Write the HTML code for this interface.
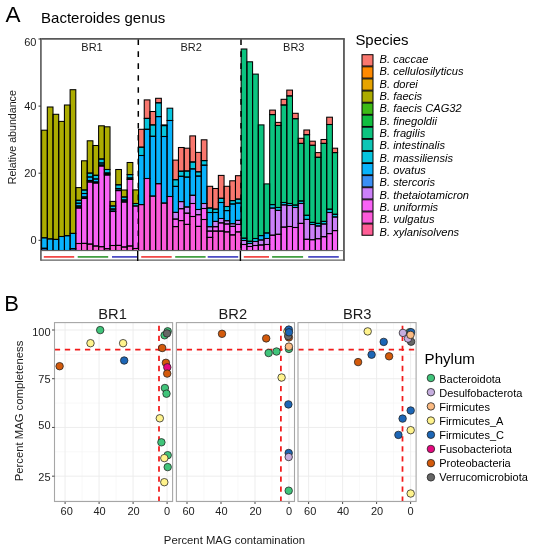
<!DOCTYPE html>
<html><head><meta charset="utf-8"><style>
html,body{margin:0;padding:0;background:#fff;}
body{width:533px;height:550px;overflow:hidden;}
svg{display:block;font-family:"Liberation Sans", sans-serif;will-change:transform;}
</style></head><body>
<svg width="533" height="550" viewBox="0 0 533 550">
<rect width="533" height="550" fill="#fff"/>
<line x1="40.9" y1="38.8" x2="344.8" y2="38.8" stroke="#585858" stroke-width="1.8"/>
<line x1="343.95" y1="38.8" x2="343.95" y2="260.8" stroke="#585858" stroke-width="1.8"/>
<line x1="40.9" y1="260.15" x2="344.8" y2="260.15" stroke="#606060" stroke-width="1.4"/>
<line x1="40.9" y1="37.9" x2="40.9" y2="260.85" stroke="#6a6a6a" stroke-width="1.8"/>
<rect x="41.60" y="130.20" width="5.70" height="107.60" fill="#ACAC00"/>
<rect x="41.60" y="237.80" width="5.70" height="10.50" fill="#08B3FC"/>
<rect x="41.60" y="248.30" width="5.70" height="2.20" fill="#1E5FA8"/>
<rect x="47.30" y="107.00" width="5.70" height="131.90" fill="#ACAC00"/>
<rect x="47.30" y="238.90" width="5.70" height="11.60" fill="#08B3FC"/>
<rect x="53.00" y="114.30" width="5.70" height="125.10" fill="#ACAC00"/>
<rect x="53.00" y="239.40" width="5.70" height="11.10" fill="#08B3FC"/>
<rect x="58.71" y="121.40" width="5.70" height="115.10" fill="#ACAC00"/>
<rect x="58.71" y="236.50" width="5.70" height="14.00" fill="#08B3FC"/>
<rect x="64.41" y="105.00" width="5.70" height="130.70" fill="#ACAC00"/>
<rect x="64.41" y="235.70" width="5.70" height="14.80" fill="#08B3FC"/>
<rect x="70.11" y="89.70" width="5.70" height="143.70" fill="#ACAC00"/>
<rect x="70.11" y="233.40" width="5.70" height="15.20" fill="#08B3FC"/>
<rect x="70.11" y="248.60" width="5.70" height="1.90" fill="#1E5FA8"/>
<rect x="75.81" y="187.60" width="5.70" height="12.70" fill="#ACAC00"/>
<rect x="75.81" y="200.30" width="5.70" height="2.90" fill="#06C5DE"/>
<rect x="75.81" y="203.20" width="5.70" height="2.80" fill="#08B3FC"/>
<rect x="75.81" y="206.00" width="5.70" height="2.00" fill="#0D4658"/>
<rect x="75.81" y="208.00" width="5.70" height="35.50" fill="#F962F6"/>
<rect x="75.81" y="243.50" width="5.70" height="7.00" fill="#FB5ADA"/>
<rect x="81.51" y="160.80" width="5.70" height="29.20" fill="#ACAC00"/>
<rect x="81.51" y="190.00" width="5.70" height="3.50" fill="#06C5DE"/>
<rect x="81.51" y="193.50" width="5.70" height="3.50" fill="#08B3FC"/>
<rect x="81.51" y="197.00" width="5.70" height="1.50" fill="#0D4658"/>
<rect x="81.51" y="198.50" width="5.70" height="44.90" fill="#F962F6"/>
<rect x="81.51" y="243.40" width="5.70" height="7.10" fill="#FB5ADA"/>
<rect x="87.22" y="140.80" width="5.70" height="32.30" fill="#ACAC00"/>
<rect x="87.22" y="173.10" width="5.70" height="3.90" fill="#06C5DE"/>
<rect x="87.22" y="177.00" width="5.70" height="3.50" fill="#08B3FC"/>
<rect x="87.22" y="180.50" width="5.70" height="1.50" fill="#0D4658"/>
<rect x="87.22" y="182.00" width="5.70" height="62.10" fill="#F962F6"/>
<rect x="87.22" y="244.10" width="5.70" height="6.40" fill="#FB5ADA"/>
<rect x="92.92" y="145.50" width="5.70" height="29.80" fill="#ACAC00"/>
<rect x="92.92" y="175.30" width="5.70" height="3.70" fill="#06C5DE"/>
<rect x="92.92" y="179.00" width="5.70" height="3.00" fill="#08B3FC"/>
<rect x="92.92" y="182.00" width="5.70" height="1.00" fill="#0D4658"/>
<rect x="92.92" y="183.00" width="5.70" height="63.00" fill="#F962F6"/>
<rect x="92.92" y="246.00" width="5.70" height="4.50" fill="#FB5ADA"/>
<rect x="98.62" y="125.80" width="5.70" height="33.20" fill="#ACAC00"/>
<rect x="98.62" y="159.00" width="5.70" height="4.00" fill="#06C5DE"/>
<rect x="98.62" y="163.00" width="5.70" height="2.00" fill="#08B3FC"/>
<rect x="98.62" y="165.00" width="5.70" height="1.00" fill="#0D4658"/>
<rect x="98.62" y="166.00" width="5.70" height="80.70" fill="#F962F6"/>
<rect x="98.62" y="246.70" width="5.70" height="3.80" fill="#FB5ADA"/>
<rect x="104.32" y="126.80" width="5.70" height="42.70" fill="#ACAC00"/>
<rect x="104.32" y="169.50" width="5.70" height="3.50" fill="#06C5DE"/>
<rect x="104.32" y="173.00" width="5.70" height="1.00" fill="#08B3FC"/>
<rect x="104.32" y="174.00" width="5.70" height="1.00" fill="#0D4658"/>
<rect x="104.32" y="175.00" width="5.70" height="73.70" fill="#F962F6"/>
<rect x="104.32" y="248.70" width="5.70" height="1.80" fill="#FB5ADA"/>
<rect x="110.02" y="201.40" width="5.70" height="4.60" fill="#ACAC00"/>
<rect x="110.02" y="206.00" width="5.70" height="3.00" fill="#06C5DE"/>
<rect x="110.02" y="209.00" width="5.70" height="2.50" fill="#0D4658"/>
<rect x="110.02" y="211.50" width="5.70" height="34.00" fill="#F962F6"/>
<rect x="110.02" y="245.50" width="5.70" height="5.00" fill="#FB5ADA"/>
<rect x="115.73" y="169.50" width="5.70" height="15.30" fill="#ACAC00"/>
<rect x="115.73" y="184.80" width="5.70" height="3.70" fill="#06C5DE"/>
<rect x="115.73" y="188.50" width="5.70" height="2.10" fill="#0D4658"/>
<rect x="115.73" y="190.60" width="5.70" height="54.80" fill="#F962F6"/>
<rect x="115.73" y="245.40" width="5.70" height="5.10" fill="#FB5ADA"/>
<rect x="121.43" y="190.00" width="5.70" height="7.00" fill="#ACAC00"/>
<rect x="121.43" y="197.00" width="5.70" height="3.00" fill="#06C5DE"/>
<rect x="121.43" y="200.00" width="5.70" height="2.00" fill="#0D4658"/>
<rect x="121.43" y="202.00" width="5.70" height="45.00" fill="#F962F6"/>
<rect x="121.43" y="247.00" width="5.70" height="3.50" fill="#FB5ADA"/>
<rect x="127.13" y="162.50" width="5.70" height="12.10" fill="#ACAC00"/>
<rect x="127.13" y="174.60" width="5.70" height="3.40" fill="#06C5DE"/>
<rect x="127.13" y="178.00" width="5.70" height="1.40" fill="#0D4658"/>
<rect x="127.13" y="179.40" width="5.70" height="66.60" fill="#F962F6"/>
<rect x="127.13" y="246.00" width="5.70" height="4.50" fill="#FB5ADA"/>
<rect x="132.83" y="189.90" width="5.70" height="13.60" fill="#ACAC00"/>
<rect x="132.83" y="203.50" width="5.70" height="2.50" fill="#0EC6B6"/>
<rect x="132.83" y="206.00" width="5.70" height="42.50" fill="#F962F6"/>
<rect x="132.83" y="248.50" width="5.70" height="2.00" fill="#FB5ADA"/>
<rect x="138.53" y="129.30" width="5.70" height="17.90" fill="#F9776E"/>
<rect x="138.53" y="147.20" width="5.70" height="8.30" fill="#06C5DE"/>
<rect x="138.53" y="155.50" width="5.70" height="49.10" fill="#08B3FC"/>
<rect x="138.53" y="204.60" width="5.70" height="45.90" fill="#FB5ADA"/>
<rect x="144.24" y="99.90" width="5.70" height="18.50" fill="#F9776E"/>
<rect x="144.24" y="118.40" width="5.70" height="10.90" fill="#06C5DE"/>
<rect x="144.24" y="129.30" width="5.70" height="49.20" fill="#08B3FC"/>
<rect x="144.24" y="178.50" width="5.70" height="72.00" fill="#FB5ADA"/>
<rect x="149.94" y="111.50" width="5.70" height="13.40" fill="#F9776E"/>
<rect x="149.94" y="124.90" width="5.70" height="11.40" fill="#06C5DE"/>
<rect x="149.94" y="136.30" width="5.70" height="59.80" fill="#08B3FC"/>
<rect x="149.94" y="196.10" width="5.70" height="54.40" fill="#FB5ADA"/>
<rect x="155.64" y="98.30" width="5.70" height="4.50" fill="#F9776E"/>
<rect x="155.64" y="102.80" width="5.70" height="13.80" fill="#06C5DE"/>
<rect x="155.64" y="116.60" width="5.70" height="67.10" fill="#08B3FC"/>
<rect x="155.64" y="183.70" width="5.70" height="66.80" fill="#FB5ADA"/>
<rect x="161.34" y="124.90" width="5.70" height="0.70" fill="#F9776E"/>
<rect x="161.34" y="125.60" width="5.70" height="10.90" fill="#06C5DE"/>
<rect x="161.34" y="136.50" width="5.70" height="66.60" fill="#08B3FC"/>
<rect x="161.34" y="203.10" width="5.70" height="47.40" fill="#FB5ADA"/>
<rect x="167.04" y="108.20" width="5.70" height="12.30" fill="#06C5DE"/>
<rect x="167.04" y="120.50" width="5.70" height="76.00" fill="#08B3FC"/>
<rect x="167.04" y="196.50" width="5.70" height="54.00" fill="#FB5ADA"/>
<rect x="172.75" y="160.10" width="5.70" height="19.60" fill="#F9776E"/>
<rect x="172.75" y="179.70" width="5.70" height="6.70" fill="#06C5DE"/>
<rect x="172.75" y="186.40" width="5.70" height="26.00" fill="#08B3FC"/>
<rect x="172.75" y="212.40" width="5.70" height="6.70" fill="#CB80F8"/>
<rect x="172.75" y="219.10" width="5.70" height="7.50" fill="#F962F6"/>
<rect x="172.75" y="226.60" width="5.70" height="23.90" fill="#FB5ADA"/>
<rect x="178.45" y="147.50" width="5.70" height="23.70" fill="#F9776E"/>
<rect x="178.45" y="171.20" width="5.70" height="5.10" fill="#06C5DE"/>
<rect x="178.45" y="176.30" width="5.70" height="25.30" fill="#08B3FC"/>
<rect x="178.45" y="201.60" width="5.70" height="7.10" fill="#CB80F8"/>
<rect x="178.45" y="208.70" width="5.70" height="11.90" fill="#F962F6"/>
<rect x="178.45" y="220.60" width="5.70" height="29.90" fill="#FB5ADA"/>
<rect x="184.15" y="148.20" width="5.70" height="22.80" fill="#F9776E"/>
<rect x="184.15" y="171.00" width="5.70" height="6.10" fill="#06C5DE"/>
<rect x="184.15" y="177.10" width="5.70" height="29.90" fill="#08B3FC"/>
<rect x="184.15" y="207.00" width="5.70" height="6.20" fill="#CB80F8"/>
<rect x="184.15" y="213.20" width="5.70" height="11.20" fill="#F962F6"/>
<rect x="184.15" y="224.40" width="5.70" height="26.10" fill="#FB5ADA"/>
<rect x="189.85" y="135.90" width="5.70" height="26.10" fill="#F9776E"/>
<rect x="189.85" y="162.00" width="5.70" height="6.90" fill="#06C5DE"/>
<rect x="189.85" y="168.90" width="5.70" height="26.40" fill="#08B3FC"/>
<rect x="189.85" y="195.30" width="5.70" height="8.20" fill="#CB80F8"/>
<rect x="189.85" y="203.50" width="5.70" height="13.00" fill="#F962F6"/>
<rect x="189.85" y="216.50" width="5.70" height="34.00" fill="#FB5ADA"/>
<rect x="195.55" y="152.40" width="5.70" height="19.40" fill="#F9776E"/>
<rect x="195.55" y="171.80" width="5.70" height="4.30" fill="#06C5DE"/>
<rect x="195.55" y="176.10" width="5.70" height="33.40" fill="#08B3FC"/>
<rect x="195.55" y="209.50" width="5.70" height="5.20" fill="#CB80F8"/>
<rect x="195.55" y="214.70" width="5.70" height="11.70" fill="#F962F6"/>
<rect x="195.55" y="226.40" width="5.70" height="24.10" fill="#FB5ADA"/>
<rect x="201.26" y="139.80" width="5.70" height="20.80" fill="#F9776E"/>
<rect x="201.26" y="160.60" width="5.70" height="4.60" fill="#06C5DE"/>
<rect x="201.26" y="165.20" width="5.70" height="38.30" fill="#08B3FC"/>
<rect x="201.26" y="203.50" width="5.70" height="5.00" fill="#CB80F8"/>
<rect x="201.26" y="208.50" width="5.70" height="11.00" fill="#F962F6"/>
<rect x="201.26" y="219.50" width="5.70" height="31.00" fill="#FB5ADA"/>
<rect x="206.96" y="186.30" width="5.70" height="21.70" fill="#F9776E"/>
<rect x="206.96" y="208.00" width="5.70" height="4.50" fill="#06C5DE"/>
<rect x="206.96" y="212.50" width="5.70" height="14.20" fill="#08B3FC"/>
<rect x="206.96" y="226.70" width="5.70" height="4.40" fill="#CB80F8"/>
<rect x="206.96" y="231.10" width="5.70" height="6.30" fill="#F962F6"/>
<rect x="206.96" y="237.40" width="5.70" height="13.10" fill="#FB5ADA"/>
<rect x="212.66" y="188.50" width="5.70" height="20.60" fill="#F9776E"/>
<rect x="212.66" y="209.10" width="5.70" height="3.40" fill="#06C5DE"/>
<rect x="212.66" y="212.50" width="5.70" height="8.90" fill="#08B3FC"/>
<rect x="212.66" y="221.40" width="5.70" height="5.30" fill="#CB80F8"/>
<rect x="212.66" y="226.70" width="5.70" height="4.40" fill="#F962F6"/>
<rect x="212.66" y="231.10" width="5.70" height="19.40" fill="#FB5ADA"/>
<rect x="218.36" y="175.40" width="5.70" height="22.90" fill="#F9776E"/>
<rect x="218.36" y="198.30" width="5.70" height="4.20" fill="#06C5DE"/>
<rect x="218.36" y="202.50" width="5.70" height="16.00" fill="#08B3FC"/>
<rect x="218.36" y="218.50" width="5.70" height="4.40" fill="#CB80F8"/>
<rect x="218.36" y="222.90" width="5.70" height="8.20" fill="#F962F6"/>
<rect x="218.36" y="231.10" width="5.70" height="19.40" fill="#FB5ADA"/>
<rect x="224.06" y="186.30" width="5.70" height="20.20" fill="#F9776E"/>
<rect x="224.06" y="206.50" width="5.70" height="4.10" fill="#06C5DE"/>
<rect x="224.06" y="210.60" width="5.70" height="10.10" fill="#08B3FC"/>
<rect x="224.06" y="220.70" width="5.70" height="3.30" fill="#CB80F8"/>
<rect x="224.06" y="224.00" width="5.70" height="7.90" fill="#F962F6"/>
<rect x="224.06" y="231.90" width="5.70" height="18.60" fill="#FB5ADA"/>
<rect x="229.77" y="180.80" width="5.70" height="19.80" fill="#F9776E"/>
<rect x="229.77" y="200.60" width="5.70" height="3.40" fill="#06C5DE"/>
<rect x="229.77" y="204.00" width="5.70" height="19.70" fill="#08B3FC"/>
<rect x="229.77" y="223.70" width="5.70" height="2.70" fill="#CB80F8"/>
<rect x="229.77" y="226.40" width="5.70" height="8.50" fill="#F962F6"/>
<rect x="229.77" y="234.90" width="5.70" height="15.60" fill="#FB5ADA"/>
<rect x="235.47" y="175.70" width="5.70" height="23.40" fill="#F9776E"/>
<rect x="235.47" y="199.10" width="5.70" height="4.00" fill="#06C5DE"/>
<rect x="235.47" y="203.10" width="5.70" height="17.30" fill="#08B3FC"/>
<rect x="235.47" y="220.40" width="5.70" height="4.00" fill="#CB80F8"/>
<rect x="235.47" y="224.40" width="5.70" height="7.50" fill="#F962F6"/>
<rect x="235.47" y="231.90" width="5.70" height="18.60" fill="#FB5ADA"/>
<rect x="241.17" y="49.00" width="5.70" height="189.20" fill="#0CC480"/>
<rect x="241.17" y="238.20" width="5.70" height="2.30" fill="#06C5DE"/>
<rect x="241.17" y="240.50" width="5.70" height="4.00" fill="#CB80F8"/>
<rect x="241.17" y="244.50" width="5.70" height="6.00" fill="#F962F6"/>
<rect x="246.87" y="61.80" width="5.70" height="179.50" fill="#0CC480"/>
<rect x="246.87" y="241.30" width="5.70" height="2.20" fill="#06C5DE"/>
<rect x="246.87" y="243.50" width="5.70" height="3.00" fill="#CB80F8"/>
<rect x="246.87" y="246.50" width="5.70" height="4.00" fill="#F962F6"/>
<rect x="252.57" y="74.10" width="5.70" height="164.40" fill="#0CC480"/>
<rect x="252.57" y="238.50" width="5.70" height="3.00" fill="#06C5DE"/>
<rect x="252.57" y="241.50" width="5.70" height="4.00" fill="#CB80F8"/>
<rect x="252.57" y="245.50" width="5.70" height="5.00" fill="#F962F6"/>
<rect x="258.28" y="124.90" width="5.70" height="110.70" fill="#0CC480"/>
<rect x="258.28" y="235.60" width="5.70" height="4.40" fill="#08B3FC"/>
<rect x="258.28" y="240.00" width="5.70" height="5.00" fill="#CB80F8"/>
<rect x="258.28" y="245.00" width="5.70" height="5.50" fill="#F962F6"/>
<rect x="263.98" y="183.90" width="5.70" height="49.10" fill="#0CC480"/>
<rect x="263.98" y="233.00" width="5.70" height="5.50" fill="#08B3FC"/>
<rect x="263.98" y="238.50" width="5.70" height="6.00" fill="#CB80F8"/>
<rect x="263.98" y="244.50" width="5.70" height="6.00" fill="#F962F6"/>
<rect x="269.68" y="110.10" width="5.70" height="4.50" fill="#F9776E"/>
<rect x="269.68" y="114.60" width="5.70" height="90.00" fill="#0CC480"/>
<rect x="269.68" y="204.60" width="5.70" height="3.50" fill="#06C5DE"/>
<rect x="269.68" y="208.10" width="5.70" height="27.10" fill="#CB80F8"/>
<rect x="269.68" y="235.20" width="5.70" height="15.30" fill="#F962F6"/>
<rect x="275.38" y="122.40" width="5.70" height="3.10" fill="#F9776E"/>
<rect x="275.38" y="125.50" width="5.70" height="82.00" fill="#0CC480"/>
<rect x="275.38" y="207.50" width="5.70" height="2.90" fill="#06C5DE"/>
<rect x="275.38" y="210.40" width="5.70" height="23.90" fill="#CB80F8"/>
<rect x="275.38" y="234.30" width="5.70" height="16.20" fill="#F962F6"/>
<rect x="281.08" y="99.30" width="5.70" height="5.70" fill="#F9776E"/>
<rect x="281.08" y="105.00" width="5.70" height="97.50" fill="#0CC480"/>
<rect x="281.08" y="202.50" width="5.70" height="2.40" fill="#06C5DE"/>
<rect x="281.08" y="204.90" width="5.70" height="22.20" fill="#CB80F8"/>
<rect x="281.08" y="227.10" width="5.70" height="23.40" fill="#F962F6"/>
<rect x="286.79" y="90.10" width="5.70" height="5.80" fill="#F9776E"/>
<rect x="286.79" y="95.90" width="5.70" height="107.60" fill="#0CC480"/>
<rect x="286.79" y="203.50" width="5.70" height="2.00" fill="#06C5DE"/>
<rect x="286.79" y="205.50" width="5.70" height="21.00" fill="#CB80F8"/>
<rect x="286.79" y="226.50" width="5.70" height="24.00" fill="#F962F6"/>
<rect x="292.49" y="113.30" width="5.70" height="5.40" fill="#F9776E"/>
<rect x="292.49" y="118.70" width="5.70" height="86.40" fill="#0CC480"/>
<rect x="292.49" y="205.10" width="5.70" height="2.40" fill="#06C5DE"/>
<rect x="292.49" y="207.50" width="5.70" height="20.00" fill="#CB80F8"/>
<rect x="292.49" y="227.50" width="5.70" height="23.00" fill="#F962F6"/>
<rect x="298.19" y="138.30" width="5.70" height="5.10" fill="#F9776E"/>
<rect x="298.19" y="143.40" width="5.70" height="57.60" fill="#0CC480"/>
<rect x="298.19" y="201.00" width="5.70" height="2.50" fill="#06C5DE"/>
<rect x="298.19" y="203.50" width="5.70" height="19.90" fill="#CB80F8"/>
<rect x="298.19" y="223.40" width="5.70" height="27.10" fill="#F962F6"/>
<rect x="303.89" y="130.00" width="5.70" height="4.70" fill="#F9776E"/>
<rect x="303.89" y="134.70" width="5.70" height="80.60" fill="#0CC480"/>
<rect x="303.89" y="215.30" width="5.70" height="4.10" fill="#06C5DE"/>
<rect x="303.89" y="219.40" width="5.70" height="19.90" fill="#CB80F8"/>
<rect x="303.89" y="239.30" width="5.70" height="11.20" fill="#F962F6"/>
<rect x="309.59" y="141.20" width="5.70" height="4.10" fill="#F9776E"/>
<rect x="309.59" y="145.30" width="5.70" height="77.10" fill="#0CC480"/>
<rect x="309.59" y="222.40" width="5.70" height="2.10" fill="#06C5DE"/>
<rect x="309.59" y="224.50" width="5.70" height="15.20" fill="#CB80F8"/>
<rect x="309.59" y="239.70" width="5.70" height="10.80" fill="#F962F6"/>
<rect x="315.30" y="152.60" width="5.70" height="4.70" fill="#F9776E"/>
<rect x="315.30" y="157.30" width="5.70" height="66.10" fill="#0CC480"/>
<rect x="315.30" y="223.40" width="5.70" height="2.60" fill="#06C5DE"/>
<rect x="315.30" y="226.00" width="5.70" height="12.70" fill="#CB80F8"/>
<rect x="315.30" y="238.70" width="5.70" height="11.80" fill="#F962F6"/>
<rect x="321.00" y="139.50" width="5.70" height="3.90" fill="#F9776E"/>
<rect x="321.00" y="143.40" width="5.70" height="78.00" fill="#0CC480"/>
<rect x="321.00" y="221.40" width="5.70" height="2.60" fill="#06C5DE"/>
<rect x="321.00" y="224.00" width="5.70" height="12.70" fill="#CB80F8"/>
<rect x="321.00" y="236.70" width="5.70" height="13.80" fill="#F962F6"/>
<rect x="326.70" y="117.20" width="5.70" height="7.30" fill="#F9776E"/>
<rect x="326.70" y="124.50" width="5.70" height="84.70" fill="#0CC480"/>
<rect x="326.70" y="209.20" width="5.70" height="3.30" fill="#06C5DE"/>
<rect x="326.70" y="212.50" width="5.70" height="21.10" fill="#CB80F8"/>
<rect x="326.70" y="233.60" width="5.70" height="16.90" fill="#F962F6"/>
<rect x="332.40" y="148.20" width="5.20" height="4.40" fill="#F9776E"/>
<rect x="332.40" y="152.60" width="5.20" height="61.70" fill="#0CC480"/>
<rect x="332.40" y="214.30" width="5.20" height="2.70" fill="#06C5DE"/>
<rect x="332.40" y="217.00" width="5.20" height="13.60" fill="#CB80F8"/>
<rect x="332.40" y="230.60" width="5.20" height="19.90" fill="#F962F6"/>
<rect x="41.60" y="130.20" width="5.70" height="107.60" fill="none" stroke="#000" stroke-width="1.05"/>
<rect x="41.60" y="237.80" width="5.70" height="10.50" fill="none" stroke="#000" stroke-width="1.05"/>
<rect x="41.60" y="248.30" width="5.70" height="2.20" fill="none" stroke="#000" stroke-width="1.05"/>
<rect x="47.30" y="107.00" width="5.70" height="131.90" fill="none" stroke="#000" stroke-width="1.05"/>
<rect x="47.30" y="238.90" width="5.70" height="11.60" fill="none" stroke="#000" stroke-width="1.05"/>
<rect x="53.00" y="114.30" width="5.70" height="125.10" fill="none" stroke="#000" stroke-width="1.05"/>
<rect x="53.00" y="239.40" width="5.70" height="11.10" fill="none" stroke="#000" stroke-width="1.05"/>
<rect x="58.71" y="121.40" width="5.70" height="115.10" fill="none" stroke="#000" stroke-width="1.05"/>
<rect x="58.71" y="236.50" width="5.70" height="14.00" fill="none" stroke="#000" stroke-width="1.05"/>
<rect x="64.41" y="105.00" width="5.70" height="130.70" fill="none" stroke="#000" stroke-width="1.05"/>
<rect x="64.41" y="235.70" width="5.70" height="14.80" fill="none" stroke="#000" stroke-width="1.05"/>
<rect x="70.11" y="89.70" width="5.70" height="143.70" fill="none" stroke="#000" stroke-width="1.05"/>
<rect x="70.11" y="233.40" width="5.70" height="15.20" fill="none" stroke="#000" stroke-width="1.05"/>
<rect x="70.11" y="248.60" width="5.70" height="1.90" fill="none" stroke="#000" stroke-width="1.05"/>
<rect x="75.81" y="187.60" width="5.70" height="12.70" fill="none" stroke="#000" stroke-width="1.05"/>
<rect x="75.81" y="200.30" width="5.70" height="2.90" fill="none" stroke="#000" stroke-width="1.05"/>
<rect x="75.81" y="203.20" width="5.70" height="2.80" fill="none" stroke="#000" stroke-width="1.05"/>
<rect x="75.81" y="206.00" width="5.70" height="2.00" fill="none" stroke="#000" stroke-width="1.05"/>
<rect x="75.81" y="208.00" width="5.70" height="35.50" fill="none" stroke="#000" stroke-width="1.05"/>
<rect x="75.81" y="243.50" width="5.70" height="7.00" fill="none" stroke="#000" stroke-width="1.05"/>
<rect x="81.51" y="160.80" width="5.70" height="29.20" fill="none" stroke="#000" stroke-width="1.05"/>
<rect x="81.51" y="190.00" width="5.70" height="3.50" fill="none" stroke="#000" stroke-width="1.05"/>
<rect x="81.51" y="193.50" width="5.70" height="3.50" fill="none" stroke="#000" stroke-width="1.05"/>
<rect x="81.51" y="197.00" width="5.70" height="1.50" fill="none" stroke="#000" stroke-width="1.05"/>
<rect x="81.51" y="198.50" width="5.70" height="44.90" fill="none" stroke="#000" stroke-width="1.05"/>
<rect x="81.51" y="243.40" width="5.70" height="7.10" fill="none" stroke="#000" stroke-width="1.05"/>
<rect x="87.22" y="140.80" width="5.70" height="32.30" fill="none" stroke="#000" stroke-width="1.05"/>
<rect x="87.22" y="173.10" width="5.70" height="3.90" fill="none" stroke="#000" stroke-width="1.05"/>
<rect x="87.22" y="177.00" width="5.70" height="3.50" fill="none" stroke="#000" stroke-width="1.05"/>
<rect x="87.22" y="180.50" width="5.70" height="1.50" fill="none" stroke="#000" stroke-width="1.05"/>
<rect x="87.22" y="182.00" width="5.70" height="62.10" fill="none" stroke="#000" stroke-width="1.05"/>
<rect x="87.22" y="244.10" width="5.70" height="6.40" fill="none" stroke="#000" stroke-width="1.05"/>
<rect x="92.92" y="145.50" width="5.70" height="29.80" fill="none" stroke="#000" stroke-width="1.05"/>
<rect x="92.92" y="175.30" width="5.70" height="3.70" fill="none" stroke="#000" stroke-width="1.05"/>
<rect x="92.92" y="179.00" width="5.70" height="3.00" fill="none" stroke="#000" stroke-width="1.05"/>
<rect x="92.92" y="182.00" width="5.70" height="1.00" fill="none" stroke="#000" stroke-width="1.05"/>
<rect x="92.92" y="183.00" width="5.70" height="63.00" fill="none" stroke="#000" stroke-width="1.05"/>
<rect x="92.92" y="246.00" width="5.70" height="4.50" fill="none" stroke="#000" stroke-width="1.05"/>
<rect x="98.62" y="125.80" width="5.70" height="33.20" fill="none" stroke="#000" stroke-width="1.05"/>
<rect x="98.62" y="159.00" width="5.70" height="4.00" fill="none" stroke="#000" stroke-width="1.05"/>
<rect x="98.62" y="163.00" width="5.70" height="2.00" fill="none" stroke="#000" stroke-width="1.05"/>
<rect x="98.62" y="165.00" width="5.70" height="1.00" fill="none" stroke="#000" stroke-width="1.05"/>
<rect x="98.62" y="166.00" width="5.70" height="80.70" fill="none" stroke="#000" stroke-width="1.05"/>
<rect x="98.62" y="246.70" width="5.70" height="3.80" fill="none" stroke="#000" stroke-width="1.05"/>
<rect x="104.32" y="126.80" width="5.70" height="42.70" fill="none" stroke="#000" stroke-width="1.05"/>
<rect x="104.32" y="169.50" width="5.70" height="3.50" fill="none" stroke="#000" stroke-width="1.05"/>
<rect x="104.32" y="173.00" width="5.70" height="1.00" fill="none" stroke="#000" stroke-width="1.05"/>
<rect x="104.32" y="174.00" width="5.70" height="1.00" fill="none" stroke="#000" stroke-width="1.05"/>
<rect x="104.32" y="175.00" width="5.70" height="73.70" fill="none" stroke="#000" stroke-width="1.05"/>
<rect x="104.32" y="248.70" width="5.70" height="1.80" fill="none" stroke="#000" stroke-width="1.05"/>
<rect x="110.02" y="201.40" width="5.70" height="4.60" fill="none" stroke="#000" stroke-width="1.05"/>
<rect x="110.02" y="206.00" width="5.70" height="3.00" fill="none" stroke="#000" stroke-width="1.05"/>
<rect x="110.02" y="209.00" width="5.70" height="2.50" fill="none" stroke="#000" stroke-width="1.05"/>
<rect x="110.02" y="211.50" width="5.70" height="34.00" fill="none" stroke="#000" stroke-width="1.05"/>
<rect x="110.02" y="245.50" width="5.70" height="5.00" fill="none" stroke="#000" stroke-width="1.05"/>
<rect x="115.73" y="169.50" width="5.70" height="15.30" fill="none" stroke="#000" stroke-width="1.05"/>
<rect x="115.73" y="184.80" width="5.70" height="3.70" fill="none" stroke="#000" stroke-width="1.05"/>
<rect x="115.73" y="188.50" width="5.70" height="2.10" fill="none" stroke="#000" stroke-width="1.05"/>
<rect x="115.73" y="190.60" width="5.70" height="54.80" fill="none" stroke="#000" stroke-width="1.05"/>
<rect x="115.73" y="245.40" width="5.70" height="5.10" fill="none" stroke="#000" stroke-width="1.05"/>
<rect x="121.43" y="190.00" width="5.70" height="7.00" fill="none" stroke="#000" stroke-width="1.05"/>
<rect x="121.43" y="197.00" width="5.70" height="3.00" fill="none" stroke="#000" stroke-width="1.05"/>
<rect x="121.43" y="200.00" width="5.70" height="2.00" fill="none" stroke="#000" stroke-width="1.05"/>
<rect x="121.43" y="202.00" width="5.70" height="45.00" fill="none" stroke="#000" stroke-width="1.05"/>
<rect x="121.43" y="247.00" width="5.70" height="3.50" fill="none" stroke="#000" stroke-width="1.05"/>
<rect x="127.13" y="162.50" width="5.70" height="12.10" fill="none" stroke="#000" stroke-width="1.05"/>
<rect x="127.13" y="174.60" width="5.70" height="3.40" fill="none" stroke="#000" stroke-width="1.05"/>
<rect x="127.13" y="178.00" width="5.70" height="1.40" fill="none" stroke="#000" stroke-width="1.05"/>
<rect x="127.13" y="179.40" width="5.70" height="66.60" fill="none" stroke="#000" stroke-width="1.05"/>
<rect x="127.13" y="246.00" width="5.70" height="4.50" fill="none" stroke="#000" stroke-width="1.05"/>
<rect x="132.83" y="189.90" width="5.70" height="13.60" fill="none" stroke="#000" stroke-width="1.05"/>
<rect x="132.83" y="203.50" width="5.70" height="2.50" fill="none" stroke="#000" stroke-width="1.05"/>
<rect x="132.83" y="206.00" width="5.70" height="42.50" fill="none" stroke="#000" stroke-width="1.05"/>
<rect x="132.83" y="248.50" width="5.70" height="2.00" fill="none" stroke="#000" stroke-width="1.05"/>
<rect x="138.53" y="129.30" width="5.70" height="17.90" fill="none" stroke="#000" stroke-width="1.05"/>
<rect x="138.53" y="147.20" width="5.70" height="8.30" fill="none" stroke="#000" stroke-width="1.05"/>
<rect x="138.53" y="155.50" width="5.70" height="49.10" fill="none" stroke="#000" stroke-width="1.05"/>
<rect x="138.53" y="204.60" width="5.70" height="45.90" fill="none" stroke="#000" stroke-width="1.05"/>
<rect x="144.24" y="99.90" width="5.70" height="18.50" fill="none" stroke="#000" stroke-width="1.05"/>
<rect x="144.24" y="118.40" width="5.70" height="10.90" fill="none" stroke="#000" stroke-width="1.05"/>
<rect x="144.24" y="129.30" width="5.70" height="49.20" fill="none" stroke="#000" stroke-width="1.05"/>
<rect x="144.24" y="178.50" width="5.70" height="72.00" fill="none" stroke="#000" stroke-width="1.05"/>
<rect x="149.94" y="111.50" width="5.70" height="13.40" fill="none" stroke="#000" stroke-width="1.05"/>
<rect x="149.94" y="124.90" width="5.70" height="11.40" fill="none" stroke="#000" stroke-width="1.05"/>
<rect x="149.94" y="136.30" width="5.70" height="59.80" fill="none" stroke="#000" stroke-width="1.05"/>
<rect x="149.94" y="196.10" width="5.70" height="54.40" fill="none" stroke="#000" stroke-width="1.05"/>
<rect x="155.64" y="98.30" width="5.70" height="4.50" fill="none" stroke="#000" stroke-width="1.05"/>
<rect x="155.64" y="102.80" width="5.70" height="13.80" fill="none" stroke="#000" stroke-width="1.05"/>
<rect x="155.64" y="116.60" width="5.70" height="67.10" fill="none" stroke="#000" stroke-width="1.05"/>
<rect x="155.64" y="183.70" width="5.70" height="66.80" fill="none" stroke="#000" stroke-width="1.05"/>
<rect x="161.34" y="124.90" width="5.70" height="0.70" fill="none" stroke="#000" stroke-width="1.05"/>
<rect x="161.34" y="125.60" width="5.70" height="10.90" fill="none" stroke="#000" stroke-width="1.05"/>
<rect x="161.34" y="136.50" width="5.70" height="66.60" fill="none" stroke="#000" stroke-width="1.05"/>
<rect x="161.34" y="203.10" width="5.70" height="47.40" fill="none" stroke="#000" stroke-width="1.05"/>
<rect x="167.04" y="108.20" width="5.70" height="12.30" fill="none" stroke="#000" stroke-width="1.05"/>
<rect x="167.04" y="120.50" width="5.70" height="76.00" fill="none" stroke="#000" stroke-width="1.05"/>
<rect x="167.04" y="196.50" width="5.70" height="54.00" fill="none" stroke="#000" stroke-width="1.05"/>
<rect x="172.75" y="160.10" width="5.70" height="19.60" fill="none" stroke="#000" stroke-width="1.05"/>
<rect x="172.75" y="179.70" width="5.70" height="6.70" fill="none" stroke="#000" stroke-width="1.05"/>
<rect x="172.75" y="186.40" width="5.70" height="26.00" fill="none" stroke="#000" stroke-width="1.05"/>
<rect x="172.75" y="212.40" width="5.70" height="6.70" fill="none" stroke="#000" stroke-width="1.05"/>
<rect x="172.75" y="219.10" width="5.70" height="7.50" fill="none" stroke="#000" stroke-width="1.05"/>
<rect x="172.75" y="226.60" width="5.70" height="23.90" fill="none" stroke="#000" stroke-width="1.05"/>
<rect x="178.45" y="147.50" width="5.70" height="23.70" fill="none" stroke="#000" stroke-width="1.05"/>
<rect x="178.45" y="171.20" width="5.70" height="5.10" fill="none" stroke="#000" stroke-width="1.05"/>
<rect x="178.45" y="176.30" width="5.70" height="25.30" fill="none" stroke="#000" stroke-width="1.05"/>
<rect x="178.45" y="201.60" width="5.70" height="7.10" fill="none" stroke="#000" stroke-width="1.05"/>
<rect x="178.45" y="208.70" width="5.70" height="11.90" fill="none" stroke="#000" stroke-width="1.05"/>
<rect x="178.45" y="220.60" width="5.70" height="29.90" fill="none" stroke="#000" stroke-width="1.05"/>
<rect x="184.15" y="148.20" width="5.70" height="22.80" fill="none" stroke="#000" stroke-width="1.05"/>
<rect x="184.15" y="171.00" width="5.70" height="6.10" fill="none" stroke="#000" stroke-width="1.05"/>
<rect x="184.15" y="177.10" width="5.70" height="29.90" fill="none" stroke="#000" stroke-width="1.05"/>
<rect x="184.15" y="207.00" width="5.70" height="6.20" fill="none" stroke="#000" stroke-width="1.05"/>
<rect x="184.15" y="213.20" width="5.70" height="11.20" fill="none" stroke="#000" stroke-width="1.05"/>
<rect x="184.15" y="224.40" width="5.70" height="26.10" fill="none" stroke="#000" stroke-width="1.05"/>
<rect x="189.85" y="135.90" width="5.70" height="26.10" fill="none" stroke="#000" stroke-width="1.05"/>
<rect x="189.85" y="162.00" width="5.70" height="6.90" fill="none" stroke="#000" stroke-width="1.05"/>
<rect x="189.85" y="168.90" width="5.70" height="26.40" fill="none" stroke="#000" stroke-width="1.05"/>
<rect x="189.85" y="195.30" width="5.70" height="8.20" fill="none" stroke="#000" stroke-width="1.05"/>
<rect x="189.85" y="203.50" width="5.70" height="13.00" fill="none" stroke="#000" stroke-width="1.05"/>
<rect x="189.85" y="216.50" width="5.70" height="34.00" fill="none" stroke="#000" stroke-width="1.05"/>
<rect x="195.55" y="152.40" width="5.70" height="19.40" fill="none" stroke="#000" stroke-width="1.05"/>
<rect x="195.55" y="171.80" width="5.70" height="4.30" fill="none" stroke="#000" stroke-width="1.05"/>
<rect x="195.55" y="176.10" width="5.70" height="33.40" fill="none" stroke="#000" stroke-width="1.05"/>
<rect x="195.55" y="209.50" width="5.70" height="5.20" fill="none" stroke="#000" stroke-width="1.05"/>
<rect x="195.55" y="214.70" width="5.70" height="11.70" fill="none" stroke="#000" stroke-width="1.05"/>
<rect x="195.55" y="226.40" width="5.70" height="24.10" fill="none" stroke="#000" stroke-width="1.05"/>
<rect x="201.26" y="139.80" width="5.70" height="20.80" fill="none" stroke="#000" stroke-width="1.05"/>
<rect x="201.26" y="160.60" width="5.70" height="4.60" fill="none" stroke="#000" stroke-width="1.05"/>
<rect x="201.26" y="165.20" width="5.70" height="38.30" fill="none" stroke="#000" stroke-width="1.05"/>
<rect x="201.26" y="203.50" width="5.70" height="5.00" fill="none" stroke="#000" stroke-width="1.05"/>
<rect x="201.26" y="208.50" width="5.70" height="11.00" fill="none" stroke="#000" stroke-width="1.05"/>
<rect x="201.26" y="219.50" width="5.70" height="31.00" fill="none" stroke="#000" stroke-width="1.05"/>
<rect x="206.96" y="186.30" width="5.70" height="21.70" fill="none" stroke="#000" stroke-width="1.05"/>
<rect x="206.96" y="208.00" width="5.70" height="4.50" fill="none" stroke="#000" stroke-width="1.05"/>
<rect x="206.96" y="212.50" width="5.70" height="14.20" fill="none" stroke="#000" stroke-width="1.05"/>
<rect x="206.96" y="226.70" width="5.70" height="4.40" fill="none" stroke="#000" stroke-width="1.05"/>
<rect x="206.96" y="231.10" width="5.70" height="6.30" fill="none" stroke="#000" stroke-width="1.05"/>
<rect x="206.96" y="237.40" width="5.70" height="13.10" fill="none" stroke="#000" stroke-width="1.05"/>
<rect x="212.66" y="188.50" width="5.70" height="20.60" fill="none" stroke="#000" stroke-width="1.05"/>
<rect x="212.66" y="209.10" width="5.70" height="3.40" fill="none" stroke="#000" stroke-width="1.05"/>
<rect x="212.66" y="212.50" width="5.70" height="8.90" fill="none" stroke="#000" stroke-width="1.05"/>
<rect x="212.66" y="221.40" width="5.70" height="5.30" fill="none" stroke="#000" stroke-width="1.05"/>
<rect x="212.66" y="226.70" width="5.70" height="4.40" fill="none" stroke="#000" stroke-width="1.05"/>
<rect x="212.66" y="231.10" width="5.70" height="19.40" fill="none" stroke="#000" stroke-width="1.05"/>
<rect x="218.36" y="175.40" width="5.70" height="22.90" fill="none" stroke="#000" stroke-width="1.05"/>
<rect x="218.36" y="198.30" width="5.70" height="4.20" fill="none" stroke="#000" stroke-width="1.05"/>
<rect x="218.36" y="202.50" width="5.70" height="16.00" fill="none" stroke="#000" stroke-width="1.05"/>
<rect x="218.36" y="218.50" width="5.70" height="4.40" fill="none" stroke="#000" stroke-width="1.05"/>
<rect x="218.36" y="222.90" width="5.70" height="8.20" fill="none" stroke="#000" stroke-width="1.05"/>
<rect x="218.36" y="231.10" width="5.70" height="19.40" fill="none" stroke="#000" stroke-width="1.05"/>
<rect x="224.06" y="186.30" width="5.70" height="20.20" fill="none" stroke="#000" stroke-width="1.05"/>
<rect x="224.06" y="206.50" width="5.70" height="4.10" fill="none" stroke="#000" stroke-width="1.05"/>
<rect x="224.06" y="210.60" width="5.70" height="10.10" fill="none" stroke="#000" stroke-width="1.05"/>
<rect x="224.06" y="220.70" width="5.70" height="3.30" fill="none" stroke="#000" stroke-width="1.05"/>
<rect x="224.06" y="224.00" width="5.70" height="7.90" fill="none" stroke="#000" stroke-width="1.05"/>
<rect x="224.06" y="231.90" width="5.70" height="18.60" fill="none" stroke="#000" stroke-width="1.05"/>
<rect x="229.77" y="180.80" width="5.70" height="19.80" fill="none" stroke="#000" stroke-width="1.05"/>
<rect x="229.77" y="200.60" width="5.70" height="3.40" fill="none" stroke="#000" stroke-width="1.05"/>
<rect x="229.77" y="204.00" width="5.70" height="19.70" fill="none" stroke="#000" stroke-width="1.05"/>
<rect x="229.77" y="223.70" width="5.70" height="2.70" fill="none" stroke="#000" stroke-width="1.05"/>
<rect x="229.77" y="226.40" width="5.70" height="8.50" fill="none" stroke="#000" stroke-width="1.05"/>
<rect x="229.77" y="234.90" width="5.70" height="15.60" fill="none" stroke="#000" stroke-width="1.05"/>
<rect x="235.47" y="175.70" width="5.70" height="23.40" fill="none" stroke="#000" stroke-width="1.05"/>
<rect x="235.47" y="199.10" width="5.70" height="4.00" fill="none" stroke="#000" stroke-width="1.05"/>
<rect x="235.47" y="203.10" width="5.70" height="17.30" fill="none" stroke="#000" stroke-width="1.05"/>
<rect x="235.47" y="220.40" width="5.70" height="4.00" fill="none" stroke="#000" stroke-width="1.05"/>
<rect x="235.47" y="224.40" width="5.70" height="7.50" fill="none" stroke="#000" stroke-width="1.05"/>
<rect x="235.47" y="231.90" width="5.70" height="18.60" fill="none" stroke="#000" stroke-width="1.05"/>
<rect x="241.17" y="49.00" width="5.70" height="189.20" fill="none" stroke="#000" stroke-width="1.05"/>
<rect x="241.17" y="238.20" width="5.70" height="2.30" fill="none" stroke="#000" stroke-width="1.05"/>
<rect x="241.17" y="240.50" width="5.70" height="4.00" fill="none" stroke="#000" stroke-width="1.05"/>
<rect x="241.17" y="244.50" width="5.70" height="6.00" fill="none" stroke="#000" stroke-width="1.05"/>
<rect x="246.87" y="61.80" width="5.70" height="179.50" fill="none" stroke="#000" stroke-width="1.05"/>
<rect x="246.87" y="241.30" width="5.70" height="2.20" fill="none" stroke="#000" stroke-width="1.05"/>
<rect x="246.87" y="243.50" width="5.70" height="3.00" fill="none" stroke="#000" stroke-width="1.05"/>
<rect x="246.87" y="246.50" width="5.70" height="4.00" fill="none" stroke="#000" stroke-width="1.05"/>
<rect x="252.57" y="74.10" width="5.70" height="164.40" fill="none" stroke="#000" stroke-width="1.05"/>
<rect x="252.57" y="238.50" width="5.70" height="3.00" fill="none" stroke="#000" stroke-width="1.05"/>
<rect x="252.57" y="241.50" width="5.70" height="4.00" fill="none" stroke="#000" stroke-width="1.05"/>
<rect x="252.57" y="245.50" width="5.70" height="5.00" fill="none" stroke="#000" stroke-width="1.05"/>
<rect x="258.28" y="124.90" width="5.70" height="110.70" fill="none" stroke="#000" stroke-width="1.05"/>
<rect x="258.28" y="235.60" width="5.70" height="4.40" fill="none" stroke="#000" stroke-width="1.05"/>
<rect x="258.28" y="240.00" width="5.70" height="5.00" fill="none" stroke="#000" stroke-width="1.05"/>
<rect x="258.28" y="245.00" width="5.70" height="5.50" fill="none" stroke="#000" stroke-width="1.05"/>
<rect x="263.98" y="183.90" width="5.70" height="49.10" fill="none" stroke="#000" stroke-width="1.05"/>
<rect x="263.98" y="233.00" width="5.70" height="5.50" fill="none" stroke="#000" stroke-width="1.05"/>
<rect x="263.98" y="238.50" width="5.70" height="6.00" fill="none" stroke="#000" stroke-width="1.05"/>
<rect x="263.98" y="244.50" width="5.70" height="6.00" fill="none" stroke="#000" stroke-width="1.05"/>
<rect x="269.68" y="110.10" width="5.70" height="4.50" fill="none" stroke="#000" stroke-width="1.05"/>
<rect x="269.68" y="114.60" width="5.70" height="90.00" fill="none" stroke="#000" stroke-width="1.05"/>
<rect x="269.68" y="204.60" width="5.70" height="3.50" fill="none" stroke="#000" stroke-width="1.05"/>
<rect x="269.68" y="208.10" width="5.70" height="27.10" fill="none" stroke="#000" stroke-width="1.05"/>
<rect x="269.68" y="235.20" width="5.70" height="15.30" fill="none" stroke="#000" stroke-width="1.05"/>
<rect x="275.38" y="122.40" width="5.70" height="3.10" fill="none" stroke="#000" stroke-width="1.05"/>
<rect x="275.38" y="125.50" width="5.70" height="82.00" fill="none" stroke="#000" stroke-width="1.05"/>
<rect x="275.38" y="207.50" width="5.70" height="2.90" fill="none" stroke="#000" stroke-width="1.05"/>
<rect x="275.38" y="210.40" width="5.70" height="23.90" fill="none" stroke="#000" stroke-width="1.05"/>
<rect x="275.38" y="234.30" width="5.70" height="16.20" fill="none" stroke="#000" stroke-width="1.05"/>
<rect x="281.08" y="99.30" width="5.70" height="5.70" fill="none" stroke="#000" stroke-width="1.05"/>
<rect x="281.08" y="105.00" width="5.70" height="97.50" fill="none" stroke="#000" stroke-width="1.05"/>
<rect x="281.08" y="202.50" width="5.70" height="2.40" fill="none" stroke="#000" stroke-width="1.05"/>
<rect x="281.08" y="204.90" width="5.70" height="22.20" fill="none" stroke="#000" stroke-width="1.05"/>
<rect x="281.08" y="227.10" width="5.70" height="23.40" fill="none" stroke="#000" stroke-width="1.05"/>
<rect x="286.79" y="90.10" width="5.70" height="5.80" fill="none" stroke="#000" stroke-width="1.05"/>
<rect x="286.79" y="95.90" width="5.70" height="107.60" fill="none" stroke="#000" stroke-width="1.05"/>
<rect x="286.79" y="203.50" width="5.70" height="2.00" fill="none" stroke="#000" stroke-width="1.05"/>
<rect x="286.79" y="205.50" width="5.70" height="21.00" fill="none" stroke="#000" stroke-width="1.05"/>
<rect x="286.79" y="226.50" width="5.70" height="24.00" fill="none" stroke="#000" stroke-width="1.05"/>
<rect x="292.49" y="113.30" width="5.70" height="5.40" fill="none" stroke="#000" stroke-width="1.05"/>
<rect x="292.49" y="118.70" width="5.70" height="86.40" fill="none" stroke="#000" stroke-width="1.05"/>
<rect x="292.49" y="205.10" width="5.70" height="2.40" fill="none" stroke="#000" stroke-width="1.05"/>
<rect x="292.49" y="207.50" width="5.70" height="20.00" fill="none" stroke="#000" stroke-width="1.05"/>
<rect x="292.49" y="227.50" width="5.70" height="23.00" fill="none" stroke="#000" stroke-width="1.05"/>
<rect x="298.19" y="138.30" width="5.70" height="5.10" fill="none" stroke="#000" stroke-width="1.05"/>
<rect x="298.19" y="143.40" width="5.70" height="57.60" fill="none" stroke="#000" stroke-width="1.05"/>
<rect x="298.19" y="201.00" width="5.70" height="2.50" fill="none" stroke="#000" stroke-width="1.05"/>
<rect x="298.19" y="203.50" width="5.70" height="19.90" fill="none" stroke="#000" stroke-width="1.05"/>
<rect x="298.19" y="223.40" width="5.70" height="27.10" fill="none" stroke="#000" stroke-width="1.05"/>
<rect x="303.89" y="130.00" width="5.70" height="4.70" fill="none" stroke="#000" stroke-width="1.05"/>
<rect x="303.89" y="134.70" width="5.70" height="80.60" fill="none" stroke="#000" stroke-width="1.05"/>
<rect x="303.89" y="215.30" width="5.70" height="4.10" fill="none" stroke="#000" stroke-width="1.05"/>
<rect x="303.89" y="219.40" width="5.70" height="19.90" fill="none" stroke="#000" stroke-width="1.05"/>
<rect x="303.89" y="239.30" width="5.70" height="11.20" fill="none" stroke="#000" stroke-width="1.05"/>
<rect x="309.59" y="141.20" width="5.70" height="4.10" fill="none" stroke="#000" stroke-width="1.05"/>
<rect x="309.59" y="145.30" width="5.70" height="77.10" fill="none" stroke="#000" stroke-width="1.05"/>
<rect x="309.59" y="222.40" width="5.70" height="2.10" fill="none" stroke="#000" stroke-width="1.05"/>
<rect x="309.59" y="224.50" width="5.70" height="15.20" fill="none" stroke="#000" stroke-width="1.05"/>
<rect x="309.59" y="239.70" width="5.70" height="10.80" fill="none" stroke="#000" stroke-width="1.05"/>
<rect x="315.30" y="152.60" width="5.70" height="4.70" fill="none" stroke="#000" stroke-width="1.05"/>
<rect x="315.30" y="157.30" width="5.70" height="66.10" fill="none" stroke="#000" stroke-width="1.05"/>
<rect x="315.30" y="223.40" width="5.70" height="2.60" fill="none" stroke="#000" stroke-width="1.05"/>
<rect x="315.30" y="226.00" width="5.70" height="12.70" fill="none" stroke="#000" stroke-width="1.05"/>
<rect x="315.30" y="238.70" width="5.70" height="11.80" fill="none" stroke="#000" stroke-width="1.05"/>
<rect x="321.00" y="139.50" width="5.70" height="3.90" fill="none" stroke="#000" stroke-width="1.05"/>
<rect x="321.00" y="143.40" width="5.70" height="78.00" fill="none" stroke="#000" stroke-width="1.05"/>
<rect x="321.00" y="221.40" width="5.70" height="2.60" fill="none" stroke="#000" stroke-width="1.05"/>
<rect x="321.00" y="224.00" width="5.70" height="12.70" fill="none" stroke="#000" stroke-width="1.05"/>
<rect x="321.00" y="236.70" width="5.70" height="13.80" fill="none" stroke="#000" stroke-width="1.05"/>
<rect x="326.70" y="117.20" width="5.70" height="7.30" fill="none" stroke="#000" stroke-width="1.05"/>
<rect x="326.70" y="124.50" width="5.70" height="84.70" fill="none" stroke="#000" stroke-width="1.05"/>
<rect x="326.70" y="209.20" width="5.70" height="3.30" fill="none" stroke="#000" stroke-width="1.05"/>
<rect x="326.70" y="212.50" width="5.70" height="21.10" fill="none" stroke="#000" stroke-width="1.05"/>
<rect x="326.70" y="233.60" width="5.70" height="16.90" fill="none" stroke="#000" stroke-width="1.05"/>
<rect x="332.40" y="148.20" width="5.20" height="4.40" fill="none" stroke="#000" stroke-width="1.05"/>
<rect x="332.40" y="152.60" width="5.20" height="61.70" fill="none" stroke="#000" stroke-width="1.05"/>
<rect x="332.40" y="214.30" width="5.20" height="2.70" fill="none" stroke="#000" stroke-width="1.05"/>
<rect x="332.40" y="217.00" width="5.20" height="13.60" fill="none" stroke="#000" stroke-width="1.05"/>
<rect x="332.40" y="230.60" width="5.20" height="19.90" fill="none" stroke="#000" stroke-width="1.05"/>
<line x1="41" y1="250.6" x2="343.9" y2="250.6" stroke="#777" stroke-width="0.9"/>
<line x1="38.5" y1="39.0" x2="41" y2="39.0" stroke="#333" stroke-width="1"/>
<text x="36.5" y="46.0" text-anchor="end" font-size="11" fill="#1a1a1a">60</text>
<line x1="38.5" y1="106.1" x2="41" y2="106.1" stroke="#333" stroke-width="1"/>
<text x="36.5" y="110.1" text-anchor="end" font-size="11" fill="#1a1a1a">40</text>
<line x1="38.5" y1="173.2" x2="41" y2="173.2" stroke="#333" stroke-width="1"/>
<text x="36.5" y="176.6" text-anchor="end" font-size="11" fill="#1a1a1a">20</text>
<line x1="38.5" y1="240.3" x2="41" y2="240.3" stroke="#333" stroke-width="1"/>
<text x="36.5" y="243.8" text-anchor="end" font-size="11" fill="#1a1a1a">0</text>
<text transform="translate(15.6,137.2) rotate(-90)" text-anchor="middle" font-size="10.65" fill="#1a1a1a">Relative abundance</text>
<line x1="138.3" y1="39.4" x2="138.3" y2="250" stroke="#000" stroke-width="1.5" stroke-dasharray="5.6 6.34"/>
<line x1="137.7" y1="251" x2="137.7" y2="261" stroke="#000" stroke-width="1.4"/>
<line x1="241.0" y1="39.4" x2="241.0" y2="250" stroke="#000" stroke-width="1.5" stroke-dasharray="5.6 6.34"/>
<line x1="240.4" y1="251" x2="240.4" y2="261" stroke="#000" stroke-width="1.4"/>
<line x1="43.8" y1="256.9" x2="74.2" y2="256.9" stroke="#F0413F" stroke-width="1.7"/>
<line x1="77.7" y1="256.9" x2="108.2" y2="256.9" stroke="#3A9A3A" stroke-width="1.7"/>
<line x1="112.0" y1="256.9" x2="137.1" y2="256.9" stroke="#4545C0" stroke-width="1.7"/>
<line x1="141.2" y1="256.9" x2="171.7" y2="256.9" stroke="#F0413F" stroke-width="1.7"/>
<line x1="175.2" y1="256.9" x2="205.6" y2="256.9" stroke="#3A9A3A" stroke-width="1.7"/>
<line x1="207.7" y1="256.9" x2="238.2" y2="256.9" stroke="#4545C0" stroke-width="1.7"/>
<line x1="243.8" y1="256.9" x2="269.0" y2="256.9" stroke="#F0413F" stroke-width="1.7"/>
<line x1="272.1" y1="256.9" x2="303.1" y2="256.9" stroke="#3A9A3A" stroke-width="1.7"/>
<line x1="308.2" y1="256.9" x2="338.8" y2="256.9" stroke="#4545C0" stroke-width="1.7"/>
<text x="92.0" y="50.5" text-anchor="middle" font-size="11" fill="#1a1a1a">BR1</text>
<text x="191.2" y="50.5" text-anchor="middle" font-size="11" fill="#1a1a1a">BR2</text>
<text x="293.8" y="50.5" text-anchor="middle" font-size="11" fill="#1a1a1a">BR3</text>
<text x="5.4" y="21.7" font-size="22.5" fill="#000">A</text>
<text x="41.1" y="23.0" font-size="15.0" fill="#000">Bacteroides genus</text>
<text x="355.4" y="44.6" font-size="14.95" fill="#000">Species</text>
<rect x="362" y="54.70" width="11" height="11.3" fill="#F9776E" stroke="#000" stroke-width="1"/>
<text x="379.6" y="62.90" font-size="11.1" font-style="italic" fill="#000">B. caccae</text>
<rect x="362" y="66.79" width="11" height="11.3" fill="#FF8A00" stroke="#000" stroke-width="1"/>
<text x="379.6" y="75.24" font-size="11.1" font-style="italic" fill="#000">B. cellulosilyticus</text>
<rect x="362" y="78.88" width="11" height="11.3" fill="#E6A300" stroke="#000" stroke-width="1"/>
<text x="379.6" y="87.58" font-size="11.1" font-style="italic" fill="#000">B. dorei</text>
<rect x="362" y="90.97" width="11" height="11.3" fill="#ACAC00" stroke="#000" stroke-width="1"/>
<text x="379.6" y="99.92" font-size="11.1" font-style="italic" fill="#000">B. faecis</text>
<rect x="362" y="103.06" width="11" height="11.3" fill="#3DBB15" stroke="#000" stroke-width="1"/>
<text x="379.6" y="112.26" font-size="11.1" font-style="italic" fill="#000">B. faecis CAG32</text>
<rect x="362" y="115.15" width="11" height="11.3" fill="#0FBF40" stroke="#000" stroke-width="1"/>
<text x="379.6" y="124.60" font-size="11.1" font-style="italic" fill="#000">B. finegoldii</text>
<rect x="362" y="127.24" width="11" height="11.3" fill="#0CC480" stroke="#000" stroke-width="1"/>
<text x="379.6" y="136.94" font-size="11.1" font-style="italic" fill="#000">B. fragilis</text>
<rect x="362" y="139.33" width="11" height="11.3" fill="#0EC6B6" stroke="#000" stroke-width="1"/>
<text x="379.6" y="149.28" font-size="11.1" font-style="italic" fill="#000">B. intestinalis</text>
<rect x="362" y="151.42" width="11" height="11.3" fill="#06C5DE" stroke="#000" stroke-width="1"/>
<text x="379.6" y="161.62" font-size="11.1" font-style="italic" fill="#000">B. massiliensis</text>
<rect x="362" y="163.51" width="11" height="11.3" fill="#08B3FC" stroke="#000" stroke-width="1"/>
<text x="379.6" y="173.96" font-size="11.1" font-style="italic" fill="#000">B. ovatus</text>
<rect x="362" y="175.60" width="11" height="11.3" fill="#3A8FF5" stroke="#000" stroke-width="1"/>
<text x="379.6" y="186.30" font-size="11.1" font-style="italic" fill="#000">B. stercoris</text>
<rect x="362" y="187.69" width="11" height="11.3" fill="#CB80F8" stroke="#000" stroke-width="1"/>
<text x="379.6" y="198.64" font-size="11.1" font-style="italic" fill="#000">B. thetaiotamicron</text>
<rect x="362" y="199.78" width="11" height="11.3" fill="#F962F6" stroke="#000" stroke-width="1"/>
<text x="379.6" y="210.98" font-size="11.1" font-style="italic" fill="#000">B. uniformis</text>
<rect x="362" y="211.87" width="11" height="11.3" fill="#FB5ADA" stroke="#000" stroke-width="1"/>
<text x="379.6" y="223.32" font-size="11.1" font-style="italic" fill="#000">B. vulgatus</text>
<rect x="362" y="223.96" width="11" height="11.3" fill="#FF5E96" stroke="#000" stroke-width="1"/>
<text x="379.6" y="235.66" font-size="11.1" font-style="italic" fill="#000">B. xylanisolvens</text>
<line x1="82.10" y1="322.6" x2="82.10" y2="501.5" stroke="#f4f4f4" stroke-width="0.6"/>
<line x1="116.10" y1="322.6" x2="116.10" y2="501.5" stroke="#f4f4f4" stroke-width="0.6"/>
<line x1="150.10" y1="322.6" x2="150.10" y2="501.5" stroke="#f4f4f4" stroke-width="0.6"/>
<line x1="54.5" y1="354.36" x2="172.6" y2="354.36" stroke="#f4f4f4" stroke-width="0.6"/>
<line x1="54.5" y1="403.09" x2="172.6" y2="403.09" stroke="#f4f4f4" stroke-width="0.6"/>
<line x1="54.5" y1="451.81" x2="172.6" y2="451.81" stroke="#f4f4f4" stroke-width="0.6"/>
<line x1="54.5" y1="500.54" x2="172.6" y2="500.54" stroke="#f4f4f4" stroke-width="0.6"/>
<line x1="65.10" y1="322.6" x2="65.10" y2="501.5" stroke="#ebebeb" stroke-width="0.9"/>
<line x1="99.10" y1="322.6" x2="99.10" y2="501.5" stroke="#ebebeb" stroke-width="0.9"/>
<line x1="133.10" y1="322.6" x2="133.10" y2="501.5" stroke="#ebebeb" stroke-width="0.9"/>
<line x1="167.10" y1="322.6" x2="167.10" y2="501.5" stroke="#ebebeb" stroke-width="0.9"/>
<line x1="54.5" y1="330.00" x2="172.6" y2="330.00" stroke="#ebebeb" stroke-width="0.9"/>
<line x1="54.5" y1="378.73" x2="172.6" y2="378.73" stroke="#ebebeb" stroke-width="0.9"/>
<line x1="54.5" y1="427.45" x2="172.6" y2="427.45" stroke="#ebebeb" stroke-width="0.9"/>
<line x1="54.5" y1="476.18" x2="172.6" y2="476.18" stroke="#ebebeb" stroke-width="0.9"/>
<line x1="159.00" y1="501.8" x2="159.00" y2="322.6" stroke="#F21B1B" stroke-width="1.75" stroke-dasharray="5.3 4.75"/>
<line x1="54.8" y1="349.5" x2="172.6" y2="349.5" stroke="#F21B1B" stroke-width="1.75" stroke-dasharray="5.3 4.75"/>
<text x="112.6" y="319.3" text-anchor="middle" font-size="14.7" fill="#1a1a1a">BR1</text>
<line x1="65.10" y1="501.5" x2="65.10" y2="504.0" stroke="#333" stroke-width="0.9"/>
<text x="66.70" y="515.2" text-anchor="middle" font-size="11" fill="#222">60</text>
<line x1="99.10" y1="501.5" x2="99.10" y2="504.0" stroke="#333" stroke-width="0.9"/>
<text x="99.50" y="515.2" text-anchor="middle" font-size="11" fill="#222">40</text>
<line x1="133.10" y1="501.5" x2="133.10" y2="504.0" stroke="#333" stroke-width="0.9"/>
<text x="133.60" y="515.2" text-anchor="middle" font-size="11" fill="#222">20</text>
<line x1="167.10" y1="501.5" x2="167.10" y2="504.0" stroke="#333" stroke-width="0.9"/>
<text x="167.10" y="515.2" text-anchor="middle" font-size="11" fill="#222">0</text>
<line x1="204.00" y1="322.6" x2="204.00" y2="501.5" stroke="#f4f4f4" stroke-width="0.6"/>
<line x1="238.00" y1="322.6" x2="238.00" y2="501.5" stroke="#f4f4f4" stroke-width="0.6"/>
<line x1="272.00" y1="322.6" x2="272.00" y2="501.5" stroke="#f4f4f4" stroke-width="0.6"/>
<line x1="176.4" y1="354.36" x2="294.5" y2="354.36" stroke="#f4f4f4" stroke-width="0.6"/>
<line x1="176.4" y1="403.09" x2="294.5" y2="403.09" stroke="#f4f4f4" stroke-width="0.6"/>
<line x1="176.4" y1="451.81" x2="294.5" y2="451.81" stroke="#f4f4f4" stroke-width="0.6"/>
<line x1="176.4" y1="500.54" x2="294.5" y2="500.54" stroke="#f4f4f4" stroke-width="0.6"/>
<line x1="187.00" y1="322.6" x2="187.00" y2="501.5" stroke="#ebebeb" stroke-width="0.9"/>
<line x1="221.00" y1="322.6" x2="221.00" y2="501.5" stroke="#ebebeb" stroke-width="0.9"/>
<line x1="255.00" y1="322.6" x2="255.00" y2="501.5" stroke="#ebebeb" stroke-width="0.9"/>
<line x1="289.00" y1="322.6" x2="289.00" y2="501.5" stroke="#ebebeb" stroke-width="0.9"/>
<line x1="176.4" y1="330.00" x2="294.5" y2="330.00" stroke="#ebebeb" stroke-width="0.9"/>
<line x1="176.4" y1="378.73" x2="294.5" y2="378.73" stroke="#ebebeb" stroke-width="0.9"/>
<line x1="176.4" y1="427.45" x2="294.5" y2="427.45" stroke="#ebebeb" stroke-width="0.9"/>
<line x1="176.4" y1="476.18" x2="294.5" y2="476.18" stroke="#ebebeb" stroke-width="0.9"/>
<line x1="280.90" y1="501.8" x2="280.90" y2="322.6" stroke="#F21B1B" stroke-width="1.75" stroke-dasharray="5.3 4.75"/>
<line x1="176.7" y1="349.5" x2="294.5" y2="349.5" stroke="#F21B1B" stroke-width="1.75" stroke-dasharray="5.3 4.75"/>
<text x="232.8" y="319.3" text-anchor="middle" font-size="14.7" fill="#1a1a1a">BR2</text>
<line x1="187.00" y1="501.5" x2="187.00" y2="504.0" stroke="#333" stroke-width="0.9"/>
<text x="188.60" y="515.2" text-anchor="middle" font-size="11" fill="#222">60</text>
<line x1="221.00" y1="501.5" x2="221.00" y2="504.0" stroke="#333" stroke-width="0.9"/>
<text x="221.40" y="515.2" text-anchor="middle" font-size="11" fill="#222">40</text>
<line x1="255.00" y1="501.5" x2="255.00" y2="504.0" stroke="#333" stroke-width="0.9"/>
<text x="255.50" y="515.2" text-anchor="middle" font-size="11" fill="#222">20</text>
<line x1="289.00" y1="501.5" x2="289.00" y2="504.0" stroke="#333" stroke-width="0.9"/>
<text x="289.00" y="515.2" text-anchor="middle" font-size="11" fill="#222">0</text>
<line x1="325.60" y1="322.6" x2="325.60" y2="501.5" stroke="#f4f4f4" stroke-width="0.6"/>
<line x1="359.60" y1="322.6" x2="359.60" y2="501.5" stroke="#f4f4f4" stroke-width="0.6"/>
<line x1="393.60" y1="322.6" x2="393.60" y2="501.5" stroke="#f4f4f4" stroke-width="0.6"/>
<line x1="298.0" y1="354.36" x2="416.1" y2="354.36" stroke="#f4f4f4" stroke-width="0.6"/>
<line x1="298.0" y1="403.09" x2="416.1" y2="403.09" stroke="#f4f4f4" stroke-width="0.6"/>
<line x1="298.0" y1="451.81" x2="416.1" y2="451.81" stroke="#f4f4f4" stroke-width="0.6"/>
<line x1="298.0" y1="500.54" x2="416.1" y2="500.54" stroke="#f4f4f4" stroke-width="0.6"/>
<line x1="308.60" y1="322.6" x2="308.60" y2="501.5" stroke="#ebebeb" stroke-width="0.9"/>
<line x1="342.60" y1="322.6" x2="342.60" y2="501.5" stroke="#ebebeb" stroke-width="0.9"/>
<line x1="376.60" y1="322.6" x2="376.60" y2="501.5" stroke="#ebebeb" stroke-width="0.9"/>
<line x1="410.60" y1="322.6" x2="410.60" y2="501.5" stroke="#ebebeb" stroke-width="0.9"/>
<line x1="298.0" y1="330.00" x2="416.1" y2="330.00" stroke="#ebebeb" stroke-width="0.9"/>
<line x1="298.0" y1="378.73" x2="416.1" y2="378.73" stroke="#ebebeb" stroke-width="0.9"/>
<line x1="298.0" y1="427.45" x2="416.1" y2="427.45" stroke="#ebebeb" stroke-width="0.9"/>
<line x1="298.0" y1="476.18" x2="416.1" y2="476.18" stroke="#ebebeb" stroke-width="0.9"/>
<line x1="402.50" y1="501.8" x2="402.50" y2="322.6" stroke="#F21B1B" stroke-width="1.75" stroke-dasharray="5.3 4.75"/>
<line x1="298.3" y1="349.5" x2="416.1" y2="349.5" stroke="#F21B1B" stroke-width="1.75" stroke-dasharray="5.3 4.75"/>
<text x="357.2" y="319.3" text-anchor="middle" font-size="14.7" fill="#1a1a1a">BR3</text>
<line x1="308.60" y1="501.5" x2="308.60" y2="504.0" stroke="#333" stroke-width="0.9"/>
<text x="310.20" y="515.2" text-anchor="middle" font-size="11" fill="#222">60</text>
<line x1="342.60" y1="501.5" x2="342.60" y2="504.0" stroke="#333" stroke-width="0.9"/>
<text x="343.00" y="515.2" text-anchor="middle" font-size="11" fill="#222">40</text>
<line x1="376.60" y1="501.5" x2="376.60" y2="504.0" stroke="#333" stroke-width="0.9"/>
<text x="377.10" y="515.2" text-anchor="middle" font-size="11" fill="#222">20</text>
<line x1="410.60" y1="501.5" x2="410.60" y2="504.0" stroke="#333" stroke-width="0.9"/>
<text x="410.60" y="515.2" text-anchor="middle" font-size="11" fill="#222">0</text>
<circle cx="100.2" cy="330.1" r="3.75" fill="#40C47A" stroke="#222" stroke-width="0.75"/>
<circle cx="90.5" cy="343.2" r="3.75" fill="#FFF38C" stroke="#222" stroke-width="0.75"/>
<circle cx="123.1" cy="343.2" r="3.75" fill="#FFF38C" stroke="#222" stroke-width="0.75"/>
<circle cx="124.2" cy="360.5" r="3.75" fill="#1C66B6" stroke="#222" stroke-width="0.75"/>
<circle cx="59.6" cy="366.2" r="3.75" fill="#D35A0B" stroke="#222" stroke-width="0.75"/>
<circle cx="167.7" cy="331.3" r="3.75" fill="#40C47A" stroke="#222" stroke-width="0.75"/>
<circle cx="164.6" cy="335.3" r="3.75" fill="#40C47A" stroke="#222" stroke-width="0.75"/>
<circle cx="167.0" cy="333.4" r="3.75" fill="#666666" stroke="#222" stroke-width="0.75"/>
<circle cx="162.2" cy="348.0" r="3.75" fill="#D35A0B" stroke="#222" stroke-width="0.75"/>
<circle cx="165.9" cy="362.8" r="3.75" fill="#D35A0B" stroke="#222" stroke-width="0.75"/>
<circle cx="167.3" cy="367.3" r="3.75" fill="#E5097F" stroke="#222" stroke-width="0.75"/>
<circle cx="167.2" cy="373.6" r="3.75" fill="#D35A0B" stroke="#222" stroke-width="0.75"/>
<circle cx="164.9" cy="388.0" r="3.75" fill="#40C47A" stroke="#222" stroke-width="0.75"/>
<circle cx="166.5" cy="393.7" r="3.75" fill="#40C47A" stroke="#222" stroke-width="0.75"/>
<circle cx="159.8" cy="418.3" r="3.75" fill="#FFF38C" stroke="#222" stroke-width="0.75"/>
<circle cx="161.4" cy="442.3" r="3.75" fill="#40C47A" stroke="#222" stroke-width="0.75"/>
<circle cx="167.7" cy="455.2" r="3.75" fill="#40C47A" stroke="#222" stroke-width="0.75"/>
<circle cx="164.3" cy="458.1" r="3.75" fill="#FFF38C" stroke="#222" stroke-width="0.75"/>
<circle cx="167.7" cy="467.1" r="3.75" fill="#40C47A" stroke="#222" stroke-width="0.75"/>
<circle cx="164.3" cy="482.2" r="3.75" fill="#FFF38C" stroke="#222" stroke-width="0.75"/>
<circle cx="222.0" cy="333.8" r="3.75" fill="#D35A0B" stroke="#222" stroke-width="0.75"/>
<circle cx="266.2" cy="338.4" r="3.75" fill="#D35A0B" stroke="#222" stroke-width="0.75"/>
<circle cx="268.6" cy="353.0" r="3.75" fill="#40C47A" stroke="#222" stroke-width="0.75"/>
<circle cx="276.5" cy="351.5" r="3.75" fill="#40C47A" stroke="#222" stroke-width="0.75"/>
<circle cx="288.9" cy="337.4" r="3.75" fill="#D35A0B" stroke="#222" stroke-width="0.75"/>
<circle cx="288.2" cy="336.0" r="3.75" fill="#666666" stroke="#222" stroke-width="0.75"/>
<circle cx="287.4" cy="331.4" r="3.75" fill="#FFF38C" stroke="#222" stroke-width="0.75"/>
<circle cx="288.8" cy="329.6" r="3.75" fill="#1C66B6" stroke="#222" stroke-width="0.75"/>
<circle cx="289.0" cy="332.3" r="3.75" fill="#1C66B6" stroke="#222" stroke-width="0.75"/>
<circle cx="288.9" cy="348.9" r="3.75" fill="#40C47A" stroke="#222" stroke-width="0.75"/>
<circle cx="288.9" cy="346.6" r="3.75" fill="#FBBA82" stroke="#222" stroke-width="0.75"/>
<circle cx="281.6" cy="377.5" r="3.75" fill="#FFF38C" stroke="#222" stroke-width="0.75"/>
<circle cx="288.4" cy="404.4" r="3.75" fill="#1C66B6" stroke="#222" stroke-width="0.75"/>
<circle cx="288.7" cy="453.0" r="3.75" fill="#1C66B6" stroke="#222" stroke-width="0.75"/>
<circle cx="288.7" cy="457.0" r="3.75" fill="#C6AEDF" stroke="#222" stroke-width="0.75"/>
<circle cx="288.7" cy="490.7" r="3.75" fill="#40C47A" stroke="#222" stroke-width="0.75"/>
<circle cx="367.7" cy="331.4" r="3.75" fill="#FFF38C" stroke="#222" stroke-width="0.75"/>
<circle cx="383.7" cy="341.9" r="3.75" fill="#1C66B6" stroke="#222" stroke-width="0.75"/>
<circle cx="371.6" cy="354.7" r="3.75" fill="#1C66B6" stroke="#222" stroke-width="0.75"/>
<circle cx="389.1" cy="356.3" r="3.75" fill="#D35A0B" stroke="#222" stroke-width="0.75"/>
<circle cx="358.1" cy="362.1" r="3.75" fill="#D35A0B" stroke="#222" stroke-width="0.75"/>
<circle cx="409.7" cy="332.2" r="3.75" fill="#40C47A" stroke="#222" stroke-width="0.75"/>
<circle cx="411.1" cy="332.2" r="3.75" fill="#1C66B6" stroke="#222" stroke-width="0.75"/>
<circle cx="402.9" cy="332.9" r="3.75" fill="#C6AEDF" stroke="#222" stroke-width="0.75"/>
<circle cx="411.1" cy="341.7" r="3.75" fill="#666666" stroke="#222" stroke-width="0.75"/>
<circle cx="408.0" cy="338.6" r="3.75" fill="#C6AEDF" stroke="#222" stroke-width="0.75"/>
<circle cx="410.5" cy="334.9" r="3.75" fill="#FBBA82" stroke="#222" stroke-width="0.75"/>
<circle cx="410.7" cy="410.5" r="3.75" fill="#1C66B6" stroke="#222" stroke-width="0.75"/>
<circle cx="402.6" cy="418.6" r="3.75" fill="#1C66B6" stroke="#222" stroke-width="0.75"/>
<circle cx="410.7" cy="430.2" r="3.75" fill="#FFF38C" stroke="#222" stroke-width="0.75"/>
<circle cx="398.4" cy="434.9" r="3.75" fill="#1C66B6" stroke="#222" stroke-width="0.75"/>
<circle cx="410.7" cy="493.5" r="3.75" fill="#FFF38C" stroke="#222" stroke-width="0.75"/>
<rect x="54.5" y="322.6" width="118.1" height="178.9" fill="none" stroke="#a6a6a6" stroke-width="1.1"/>
<rect x="176.4" y="322.6" width="118.1" height="178.9" fill="none" stroke="#a6a6a6" stroke-width="1.1"/>
<rect x="298.0" y="322.6" width="118.1" height="178.9" fill="none" stroke="#a6a6a6" stroke-width="1.1"/>
<line x1="52" y1="330.00" x2="54.5" y2="330.00" stroke="#333" stroke-width="0.9"/>
<text x="50.6" y="335.85" text-anchor="end" font-size="11" fill="#222">100</text>
<line x1="52" y1="378.73" x2="54.5" y2="378.73" stroke="#333" stroke-width="0.9"/>
<text x="50.6" y="382.85" text-anchor="end" font-size="11" fill="#222">75</text>
<line x1="52" y1="427.45" x2="54.5" y2="427.45" stroke="#333" stroke-width="0.9"/>
<text x="50.6" y="428.95" text-anchor="end" font-size="11" fill="#222">50</text>
<line x1="52" y1="476.18" x2="54.5" y2="476.18" stroke="#333" stroke-width="0.9"/>
<text x="50.6" y="480.65" text-anchor="end" font-size="11" fill="#222">25</text>
<text x="4.2" y="310.8" font-size="22" fill="#000">B</text>
<text transform="translate(22.8,411) rotate(-90)" text-anchor="middle" font-size="11.3" fill="#1a1a1a">Percent MAG completeness</text>
<text x="234.5" y="544.3" text-anchor="middle" font-size="11.3" fill="#1a1a1a">Percent MAG contamination</text>
<text x="424.6" y="363.8" font-size="15.1" fill="#000">Phylum</text>
<circle cx="430.9" cy="378.00" r="3.75" fill="#40C47A" stroke="#222" stroke-width="0.8"/>
<text x="439.2" y="382.85" font-size="11" fill="#000">Bacteroidota</text>
<circle cx="430.9" cy="392.19" r="3.75" fill="#C6AEDF" stroke="#222" stroke-width="0.8"/>
<text x="439.2" y="396.91" font-size="11" fill="#000">Desulfobacterota</text>
<circle cx="430.9" cy="406.38" r="3.75" fill="#FBBA82" stroke="#222" stroke-width="0.8"/>
<text x="439.2" y="410.97" font-size="11" fill="#000">Firmicutes</text>
<circle cx="430.9" cy="420.57" r="3.75" fill="#FFF38C" stroke="#222" stroke-width="0.8"/>
<text x="439.2" y="425.03" font-size="11" fill="#000">Firmicutes_A</text>
<circle cx="430.9" cy="434.76" r="3.75" fill="#1C66B6" stroke="#222" stroke-width="0.8"/>
<text x="439.2" y="439.09" font-size="11" fill="#000">Firmicutes_C</text>
<circle cx="430.9" cy="448.95" r="3.75" fill="#E5097F" stroke="#222" stroke-width="0.8"/>
<text x="439.2" y="453.15" font-size="11" fill="#000">Fusobacteriota</text>
<circle cx="430.9" cy="463.14" r="3.75" fill="#D35A0B" stroke="#222" stroke-width="0.8"/>
<text x="439.2" y="467.21" font-size="11" fill="#000">Proteobacteria</text>
<circle cx="430.9" cy="477.33" r="3.75" fill="#666666" stroke="#222" stroke-width="0.8"/>
<text x="439.2" y="481.27" font-size="11" fill="#000">Verrucomicrobiota</text>
</svg>
</body></html>
